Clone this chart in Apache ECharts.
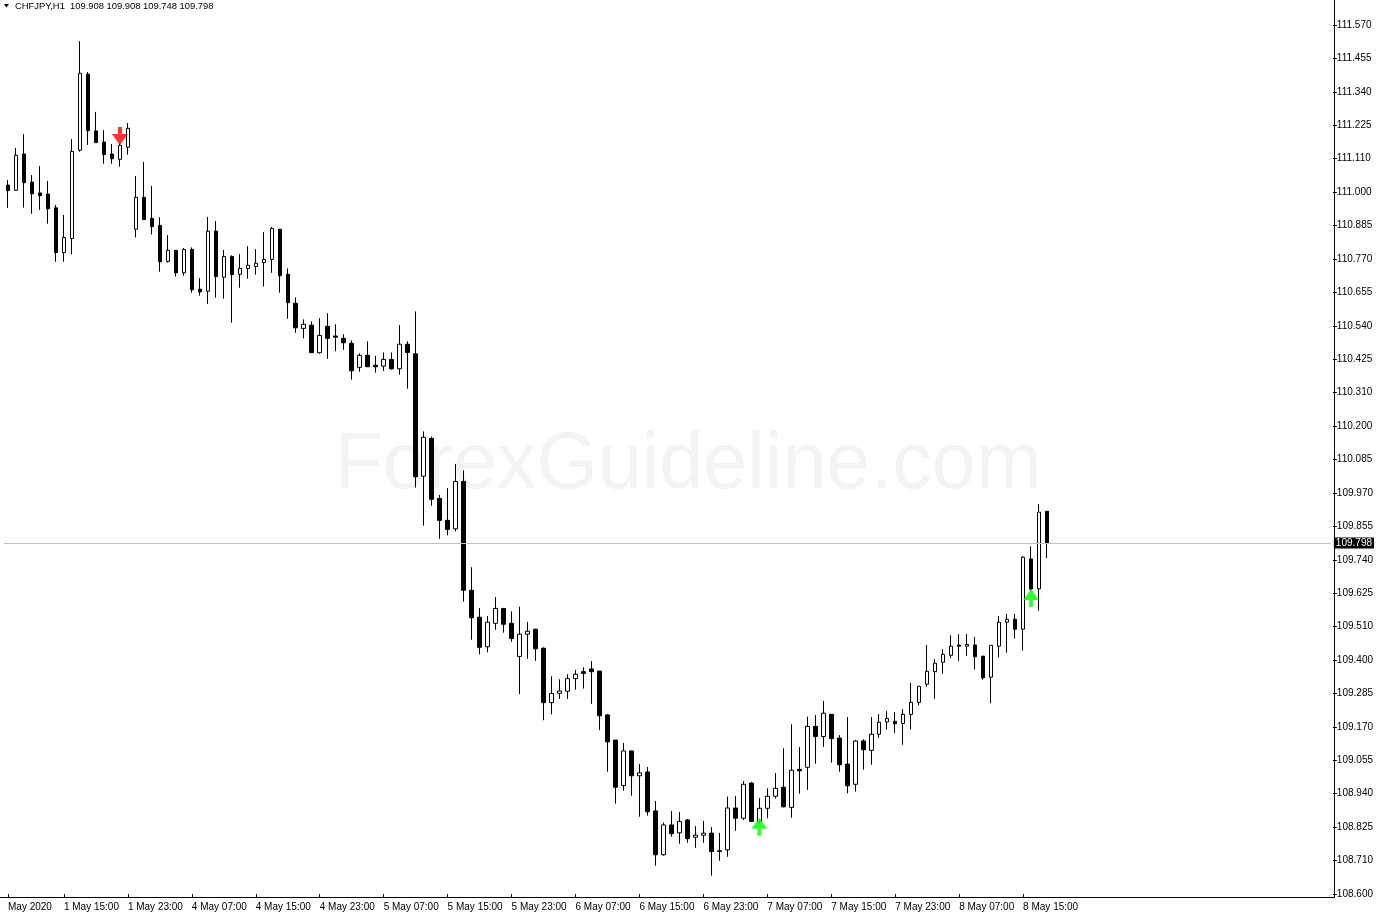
<!DOCTYPE html>
<html>
<head>
<meta charset="utf-8">
<script src="https://cdn.jsdelivr.net/npm/echarts@6/dist/echarts.min.js"></script>
<style>
html,body{margin:0;padding:0;background:#fff;}
#chart{width:1376px;height:918px;}
</style>
</head>
<body>
<div id="chart"></div>
<script>
// ---- Data (CHFJPY, H1) ----
const symbolTitle = 'CHFJPY,H1  109.908 109.908 109.748 109.798';

const open = [
111.023, 111.005, 111.129, 111.033, 110.996, 110.992, 110.945, 110.792, 110.840, 111.142,
111.402, 111.208, 111.170, 111.129, 111.111, 111.152, 110.872, 110.981, 110.909, 110.885,
110.762, 110.800, 110.723, 110.803, 110.667, 110.660, 110.866, 110.708, 110.779, 110.718,
110.738, 110.745, 110.758, 110.769, 110.872, 110.718, 110.619, 110.533, 110.544, 110.450,
110.540, 110.507, 110.499, 110.482, 110.400, 110.441, 110.407, 110.404, 110.427, 110.395,
110.479, 110.446, 110.028, 110.157, 109.952, 109.877, 109.848, 110.010, 109.638, 109.546,
109.445, 109.525, 109.576, 109.525, 109.412, 109.488, 109.505, 109.440, 109.254, 109.286,
109.293, 109.336, 109.360, 109.369, 109.362, 109.212, 109.126, 108.971, 109.089, 109.004,
109.017, 108.884, 108.734, 108.836, 108.809, 108.853, 108.794, 108.801, 108.808, 108.745,
108.751, 108.894, 108.859, 108.979, 108.848, 108.893, 108.934, 108.965, 108.896, 109.026,
109.033, 109.173, 109.138, 109.214, 109.133, 109.044, 108.975, 109.123, 109.091, 109.146,
109.188, 109.190, 109.183, 109.214, 109.255, 109.317, 109.360, 109.392, 109.416, 109.451,
109.447, 109.451, 109.413, 109.341, 109.447, 109.529, 109.539, 109.505, 109.745, 109.643,
109.908
];
const high = [
111.040, 111.150, 111.197, 111.057, 111.088, 111.037, 110.955, 110.921, 111.180, 111.515,
111.409, 111.273, 111.211, 111.163, 111.165, 111.235, 111.054, 111.102, 111.020, 110.913,
110.852, 110.801, 110.808, 110.810, 110.705, 110.914, 110.900, 110.801, 110.783, 110.787,
110.814, 110.804, 110.862, 110.879, 110.872, 110.738, 110.639, 110.564, 110.557, 110.568,
110.585, 110.547, 110.513, 110.492, 110.448, 110.489, 110.439, 110.451, 110.451, 110.544,
110.489, 110.591, 110.181, 110.163, 109.964, 109.987, 110.070, 110.048, 109.717, 109.577,
109.550, 109.615, 109.576, 109.566, 109.582, 109.530, 109.505, 109.443, 109.344, 109.334,
109.351, 109.366, 109.375, 109.396, 109.362, 109.215, 109.126, 109.116, 109.089, 109.044,
109.034, 108.918, 108.844, 108.884, 108.880, 108.856, 108.832, 108.850, 108.829, 108.809,
108.933, 108.935, 108.986, 108.983, 108.928, 108.961, 109.013, 109.098, 109.180, 109.102,
109.206, 109.212, 109.260, 109.214, 109.143, 109.205, 109.126, 109.129, 109.205, 109.215,
109.225, 109.222, 109.232, 109.321, 109.310, 109.451, 109.403, 109.436, 109.484, 109.488,
109.489, 109.479, 109.413, 109.450, 109.550, 109.557, 109.557, 109.754, 109.788, 109.933,
109.908
];
const low = [
110.945, 111.003, 110.946, 110.925, 110.938, 110.891, 110.761, 110.761, 110.786, 111.137,
111.160, 111.167, 111.096, 111.096, 111.086, 111.127, 110.844, 110.904, 110.854, 110.727,
110.758, 110.710, 110.713, 110.655, 110.645, 110.617, 110.638, 110.635, 110.553, 110.672,
110.703, 110.717, 110.676, 110.723, 110.655, 110.566, 110.518, 110.499, 110.450, 110.447,
110.429, 110.455, 110.460, 110.358, 110.385, 110.402, 110.382, 110.388, 110.392, 110.375,
110.327, 109.989, 109.859, 109.927, 109.814, 109.826, 109.839, 109.599, 109.469, 109.419,
109.426, 109.503, 109.493, 109.462, 109.283, 109.404, 109.397, 109.194, 109.214, 109.267,
109.267, 109.298, 109.302, 109.250, 109.160, 109.018, 108.909, 108.953, 108.936, 108.864,
108.868, 108.697, 108.731, 108.796, 108.772, 108.775, 108.758, 108.775, 108.663, 108.714,
108.727, 108.816, 108.853, 108.848, 108.842, 108.859, 108.926, 108.896, 108.861, 108.943,
108.956, 109.045, 109.103, 109.049, 109.018, 108.944, 108.950, 109.025, 109.042, 109.134,
109.162, 109.151, 109.110, 109.162, 109.244, 109.308, 109.267, 109.353, 109.406, 109.397,
109.413, 109.367, 109.332, 109.252, 109.408, 109.425, 109.473, 109.432, 109.635, 109.568,
109.748
];
const close = [
111.004, 111.125, 111.031, 110.993, 110.987, 110.942, 110.792, 110.844, 111.138, 111.405,
111.209, 111.168, 111.127, 111.113, 111.159, 111.217, 110.981, 110.905, 110.881, 110.761,
110.800, 110.723, 110.803, 110.665, 110.658, 110.865, 110.710, 110.779, 110.717, 110.738,
110.749, 110.756, 110.769, 110.875, 110.713, 110.621, 110.535, 110.547, 110.450, 110.509,
110.499, 110.503, 110.484, 110.388, 110.441, 110.402, 110.402, 110.427, 110.395, 110.479,
110.451, 110.026, 110.161, 109.949, 109.877, 109.846, 110.010, 109.638, 109.544, 109.443,
109.529, 109.576, 109.522, 109.473, 109.488, 109.498, 109.438, 109.254, 109.285, 109.294,
109.336, 109.351, 109.354, 109.360, 109.209, 109.120, 108.965, 109.089, 109.004, 109.014,
108.881, 108.734, 108.836, 108.806, 108.848, 108.789, 108.801, 108.808, 108.745, 108.748,
108.894, 108.859, 108.975, 108.848, 108.893, 108.934, 108.961, 108.898, 109.023, 109.021,
109.173, 109.138, 109.218, 109.131, 109.042, 108.970, 109.123, 109.093, 109.146, 109.187,
109.200, 109.182, 109.214, 109.255, 109.310, 109.361, 109.389, 109.419, 109.447, 109.447,
109.453, 109.411, 109.339, 109.450, 109.529, 109.539, 109.505, 109.751, 109.642, 109.905,
109.798
];

// signal arrows: [bar index, price]
const sellArrows = [[14, 111.191]];
const buyArrows = [[94, 108.830], [128, 109.612]];

// price-scale tick labels, bottom to top (evenly spaced)
const yTickLabels = ['108.600','108.710','108.825','108.940','109.055','109.170','109.285','109.400',
  '109.510','109.625','109.740','109.855','109.970','110.085','110.200','110.310','110.425','110.540',
  '110.655','110.770','110.885','111.000','111.110','111.225','111.340','111.455','111.570'];
const yMin = 108.600, yMax = 111.570;

const xTickLabels = ['1 May 15:00','1 May 23:00','4 May 07:00','4 May 15:00','4 May 23:00',
  '5 May 07:00','5 May 15:00','5 May 23:00','6 May 07:00','6 May 15:00','6 May 23:00',
  '7 May 07:00','7 May 15:00','7 May 23:00','8 May 07:00','8 May 15:00'];
const firstLabel = 'May 2020';

// hourly categories: Fri 1 May 08:00-23:00, then from Mon 4 May 00:00 (plus empty future slots)
const totalSlots = 166;
const categories = [];
for (let i = 0; i < totalSlots; i++) {
  let day, hour;
  if (i < 16) { day = 1; hour = 8 + i; }
  else { const h = i - 16; day = 4 + Math.floor(h / 24); hour = h % 24; }
  categories.push(day + ' May ' + String(hour).padStart(2, '0') + ':00');
}

const candleData = open.map((o, i) => [o, close[i], low[i], high[i]]);
const lastClose = close[close.length - 1];

const FONT = 'Liberation Sans, Arial, sans-serif';
const showTick = (idx, val) => idx === 0 || xTickLabels.indexOf(val) >= 0;

const chart = echarts.init(document.getElementById('chart'), null, {renderer: 'canvas'});
chart.setOption({
  animation: false,
  backgroundColor: '#ffffff',
  grid: {left: 4, right: 44, top: 25, bottom: 24, containLabel: false},
  xAxis: {
    type: 'category', data: categories, boundaryGap: true, offset: 3,
    axisLine: {show: false},
    axisTick: {show: true, alignWithLabel: true, length: 4, interval: showTick, lineStyle: {color: '#000', width: 1}},
    axisLabel: {interval: showTick, formatter: (v, idx) => idx === 0 ? firstLabel : v,
      align: 'left', margin: 5, fontSize: 10, fontFamily: FONT, color: '#000'},
    splitLine: {show: false}
  },
  yAxis: [
    {type: 'value', min: yMin, max: yMax, show: false, position: 'left', splitLine: {show: false}},
    {type: 'value', min: 0, max: yTickLabels.length - 1, interval: 1, position: 'right', offset: 2,
      axisLine: {show: false},
      axisTick: {show: true, length: 4, lineStyle: {color: '#000', width: 1}},
      axisLabel: {formatter: v => yTickLabels[v] || '', margin: 4, fontSize: 10, fontFamily: FONT, color: '#000',
        padding: [2, 0, 0, 0]},
      splitLine: {show: false}}
  ],
  graphic: [
    {type: 'text', z: 0, silent: true,
      style: {text: 'ForexGuideline.com', x: 688, y: 466, textAlign: 'center', textVerticalAlign: 'middle',
        font: '79px Liberation Sans, Arial, sans-serif', fill: '#f3f3f3'}},
    {type: 'polygon', silent: true, shape: {points: [[4, 4], [9, 4], [6.5, 7.5]]}, style: {fill: '#000'}},
    {type: 'text', silent: true, style: {text: symbolTitle, x: 15, y: 6, textVerticalAlign: 'middle',
      font: '9.4px Liberation Sans, Arial, sans-serif', fill: '#000'}},
    {type: 'line', silent: true, shape: {x1: 1334.5, y1: 0, x2: 1334.5, y2: 897.5}, style: {stroke: '#000', lineWidth: 1}},
    {type: 'line', silent: true, shape: {x1: 0, y1: 897.5, x2: 1334.5, y2: 897.5}, style: {stroke: '#000', lineWidth: 1}}
  ],
  series: [
    {
      type: 'candlestick', name: 'CHFJPY', data: candleData, yAxisIndex: 0,
      barWidth: 4,
      itemStyle: {color: '#ffffff', color0: '#000000', borderColor: '#000000', borderColor0: '#000000', borderWidth: 1},
      emphasis: {disabled: true},
      markLine: {
        silent: true, symbol: ['none', 'none'], animation: false,
        data: [{yAxis: lastClose}],
        lineStyle: {color: '#c0c0c0', width: 1, type: 'solid'},
        label: {position: 'end', formatter: () => lastClose.toFixed(3), backgroundColor: '#000', color: '#fff',
          padding: [1, 2, 0, 2], fontSize: 10, fontFamily: FONT, distance: 3}
      }
    },
    {
      type: 'scatter', data: sellArrows, yAxisIndex: 0,
      symbol: 'path://M6,0 H10 V7 H16 L8,18 L0,7 H6 Z', symbolSize: [16, 18],
      itemStyle: {color: '#ff0000'}, emphasis: {disabled: true}, z: 5
    },
    {
      type: 'scatter', data: buyArrows, yAxisIndex: 0,
      symbol: 'path://M8,0 L16,11 H10 V18 H6 V11 H0 Z', symbolSize: [16, 18],
      itemStyle: {color: '#00ff00'}, emphasis: {disabled: true}, z: 5
    }
  ]
});
</script>
</body>
</html>
